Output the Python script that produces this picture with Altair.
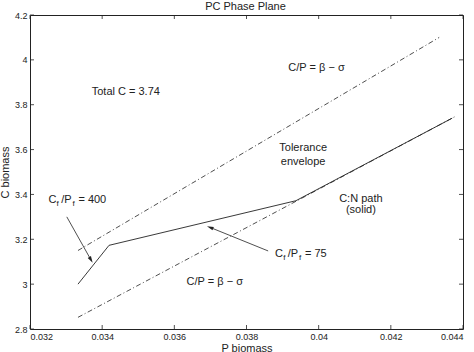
import math
import altair as alt
import pandas as pd

FONT = "Liberation Sans"
INK = "#222222"

# Axis extents and tick values
x_ticks = [0.032, 0.034, 0.036, 0.038, 0.040, 0.042, 0.044]
y_ticks = [2.8, 3.0, 3.2, 3.4, 3.6, 3.8, 4.0, 4.2]
x_dom = [0.032, 0.044]
y_dom = [2.8, 4.2]

# C:N path (solid)
path_p = [0.03333, 0.03419, 0.03937, 0.04370]
path_c = [3.00, 3.173, 3.372, 3.74]

# Tolerance envelope bounds, C/P = beta +/- sigma (end points)
upper_p = [0.03333, 0.04334]
upper_c = [3.150, 4.100]
lower_p = [0.03333, 0.04378]
lower_c = [2.852, 3.747]

# Arrows: (start P, start C, tip P, tip C)
arrows = [
    (0.03302, 3.300, 0.03369, 3.108),
    (0.03860, 3.148, 0.03699, 3.253),
]

W, H = 433, 314

xs = alt.Scale(domain=x_dom, nice=False, zero=False)
ys = alt.Scale(domain=y_dom, nice=False, zero=False)

path_df = pd.DataFrame({"P": path_p, "C": path_c, "i": range(len(path_p))})
env_df = pd.DataFrame({
    "P": upper_p + lower_p,
    "C": upper_c + lower_c,
    "side": ["upper"] * 2 + ["lower"] * 2,
})

x_enc = alt.X("P:Q", scale=xs, title="P biomass",
              axis=alt.Axis(values=x_ticks, format=".3~f", ticks=False, grid=False,
                            domain=False, labelFont=FONT, labelFontSize=9,
                            labelColor=INK, labelPadding=3, titleFont=FONT,
                            titleFontSize=11, titleFontWeight="normal",
                            titleColor=INK, titlePadding=1))
y_enc = alt.Y("C:Q", scale=ys, title="C biomass",
              axis=alt.Axis(values=y_ticks, format=".1~f", ticks=False, grid=False,
                            domain=False, labelFont=FONT, labelFontSize=9,
                            labelColor=INK, labelPadding=3, titleFont=FONT,
                            titleFontSize=11, titleFontWeight="normal",
                            titleColor=INK, titlePadding=4))

path = alt.Chart(path_df).mark_line(color=INK, strokeWidth=0.9).encode(
    x=x_enc, y=y_enc, order="i:O")

env = alt.Chart(env_df).mark_line(color=INK, strokeWidth=0.8,
                                  strokeDash=[5, 2.5, 1, 2.5]).encode(
    x=alt.X("P:Q", scale=xs), y=alt.Y("C:Q", scale=ys), detail="side:N")

# Arrow shafts and heads
px_per_p = W / (x_dom[1] - x_dom[0])
px_per_c = H / (y_dom[1] - y_dom[0])
shaft_rows, head_rows = [], []
for k, (p0, c0, p1, c1) in enumerate(arrows):
    shaft_rows += [{"P": p0, "C": c0, "a": k}, {"P": p1, "C": c1, "a": k}]
    dx = (p1 - p0) * px_per_p
    dy = -(c1 - c0) * px_per_c
    ang = math.degrees(math.atan2(dx, -dy)) % 360
    head_rows.append({"P": p1, "C": c1, "ang": ang})
shaft = alt.Chart(pd.DataFrame(shaft_rows)).mark_line(color=INK, strokeWidth=0.8).encode(
    x=alt.X("P:Q", scale=xs), y=alt.Y("C:Q", scale=ys), detail="a:N")
heads = alt.Chart(pd.DataFrame(head_rows)).mark_point(
    shape="M0,-1L0.55,1L-0.55,1Z", filled=True, color=INK, opacity=1, size=45).encode(
    x=alt.X("P:Q", scale=xs), y=alt.Y("C:Q", scale=ys),
    angle=alt.Angle("ang:Q", scale=None))

# Plain annotations
notes = pd.DataFrame([
    {"P": 0.03371, "C": 3.858, "t": "Total C = 3.74", "al": "left"},
    {"P": 0.03916, "C": 3.962, "t": "C/P = β − σ", "al": "left"},
    {"P": 0.03634, "C": 3.011, "t": "C/P = β − σ", "al": "left"},
    {"P": 0.03957, "C": 3.606, "t": "Tolerance", "al": "center"},
    {"P": 0.03957, "C": 3.546, "t": "envelope", "al": "center"},
    {"P": 0.04117, "C": 3.378, "t": "C:N path", "al": "center"},
    {"P": 0.04117, "C": 3.331, "t": "(solid)", "al": "center"},
])
note_layers = []
for al in ["left", "center"]:
    note_layers.append(
        alt.Chart(notes[notes["al"] == al]).mark_text(
            font=FONT, fontSize=11, color=INK, align=al, baseline="middle").encode(
            x=alt.X("P:Q", scale=xs), y=alt.Y("C:Q", scale=ys), text="t:N"))

# Ratio labels with subscripts, built from pieces
ratio_df = pd.DataFrame([
    {"P": 0.03251, "C": 3.375, "v": "= 400"},
    {"P": 0.03879, "C": 3.134, "v": "= 75"},
])
pieces = [("C", 0, 0, 11), ("f", 8.2, 3.5, 8), ("/P", 12.8, 0, 11),
          ("f", 24.0, 3.5, 8), (None, 30, 0, 11)]
ratio_layers = []
for txt, dx, dy, fs in pieces:
    mk = alt.Chart(ratio_df).mark_text(font=FONT, fontSize=fs, color=INK, align="left",
                                       baseline="middle", dx=dx, dy=dy)
    if txt is None:
        ratio_layers.append(mk.encode(x=alt.X("P:Q", scale=xs), y=alt.Y("C:Q", scale=ys),
                                      text="v:N"))
    else:
        ratio_layers.append(mk.encode(x=alt.X("P:Q", scale=xs), y=alt.Y("C:Q", scale=ys),
                                      text=alt.value(txt)))

# Inward tick marks on all four sides
TL = 4
xt = pd.DataFrame({"P": x_ticks})
yt = pd.DataFrame({"C": y_ticks})
tick_bot = alt.Chart(xt).mark_rule(color=INK, strokeWidth=0.8).encode(
    x=alt.X("P:Q", scale=xs), y=alt.value(H), y2=alt.value(H - TL))
tick_top = alt.Chart(xt).mark_rule(color=INK, strokeWidth=0.8).encode(
    x=alt.X("P:Q", scale=xs), y=alt.value(0), y2=alt.value(TL))
tick_left = alt.Chart(yt).mark_rule(color=INK, strokeWidth=0.8).encode(
    y=alt.Y("C:Q", scale=ys), x=alt.value(0), x2=alt.value(TL))
tick_right = alt.Chart(yt).mark_rule(color=INK, strokeWidth=0.8).encode(
    y=alt.Y("C:Q", scale=ys), x=alt.value(W), x2=alt.value(W - TL))

title = alt.Chart(pd.DataFrame({"t": ["PC Phase Plane"]})).mark_text(
    font=FONT, fontSize=11, color=INK, align="center", baseline="alphabetic").encode(
    x=alt.value(W / 2 - 1), y=alt.value(-5), text="t:N")

chart = alt.layer(
    path, env, shaft, heads, *note_layers, *ratio_layers,
    tick_bot, tick_top, tick_left, tick_right, title,
).properties(
    width=W, height=H,
    autosize=alt.AutoSizeParams(type="none"),
    padding={"left": 30, "top": 15, "right": 11, "bottom": 23},
    background="white",
).configure_view(stroke=INK, strokeWidth=1)

chart.save("out.html", embed_options={"renderer": "svg", "actions": False})
